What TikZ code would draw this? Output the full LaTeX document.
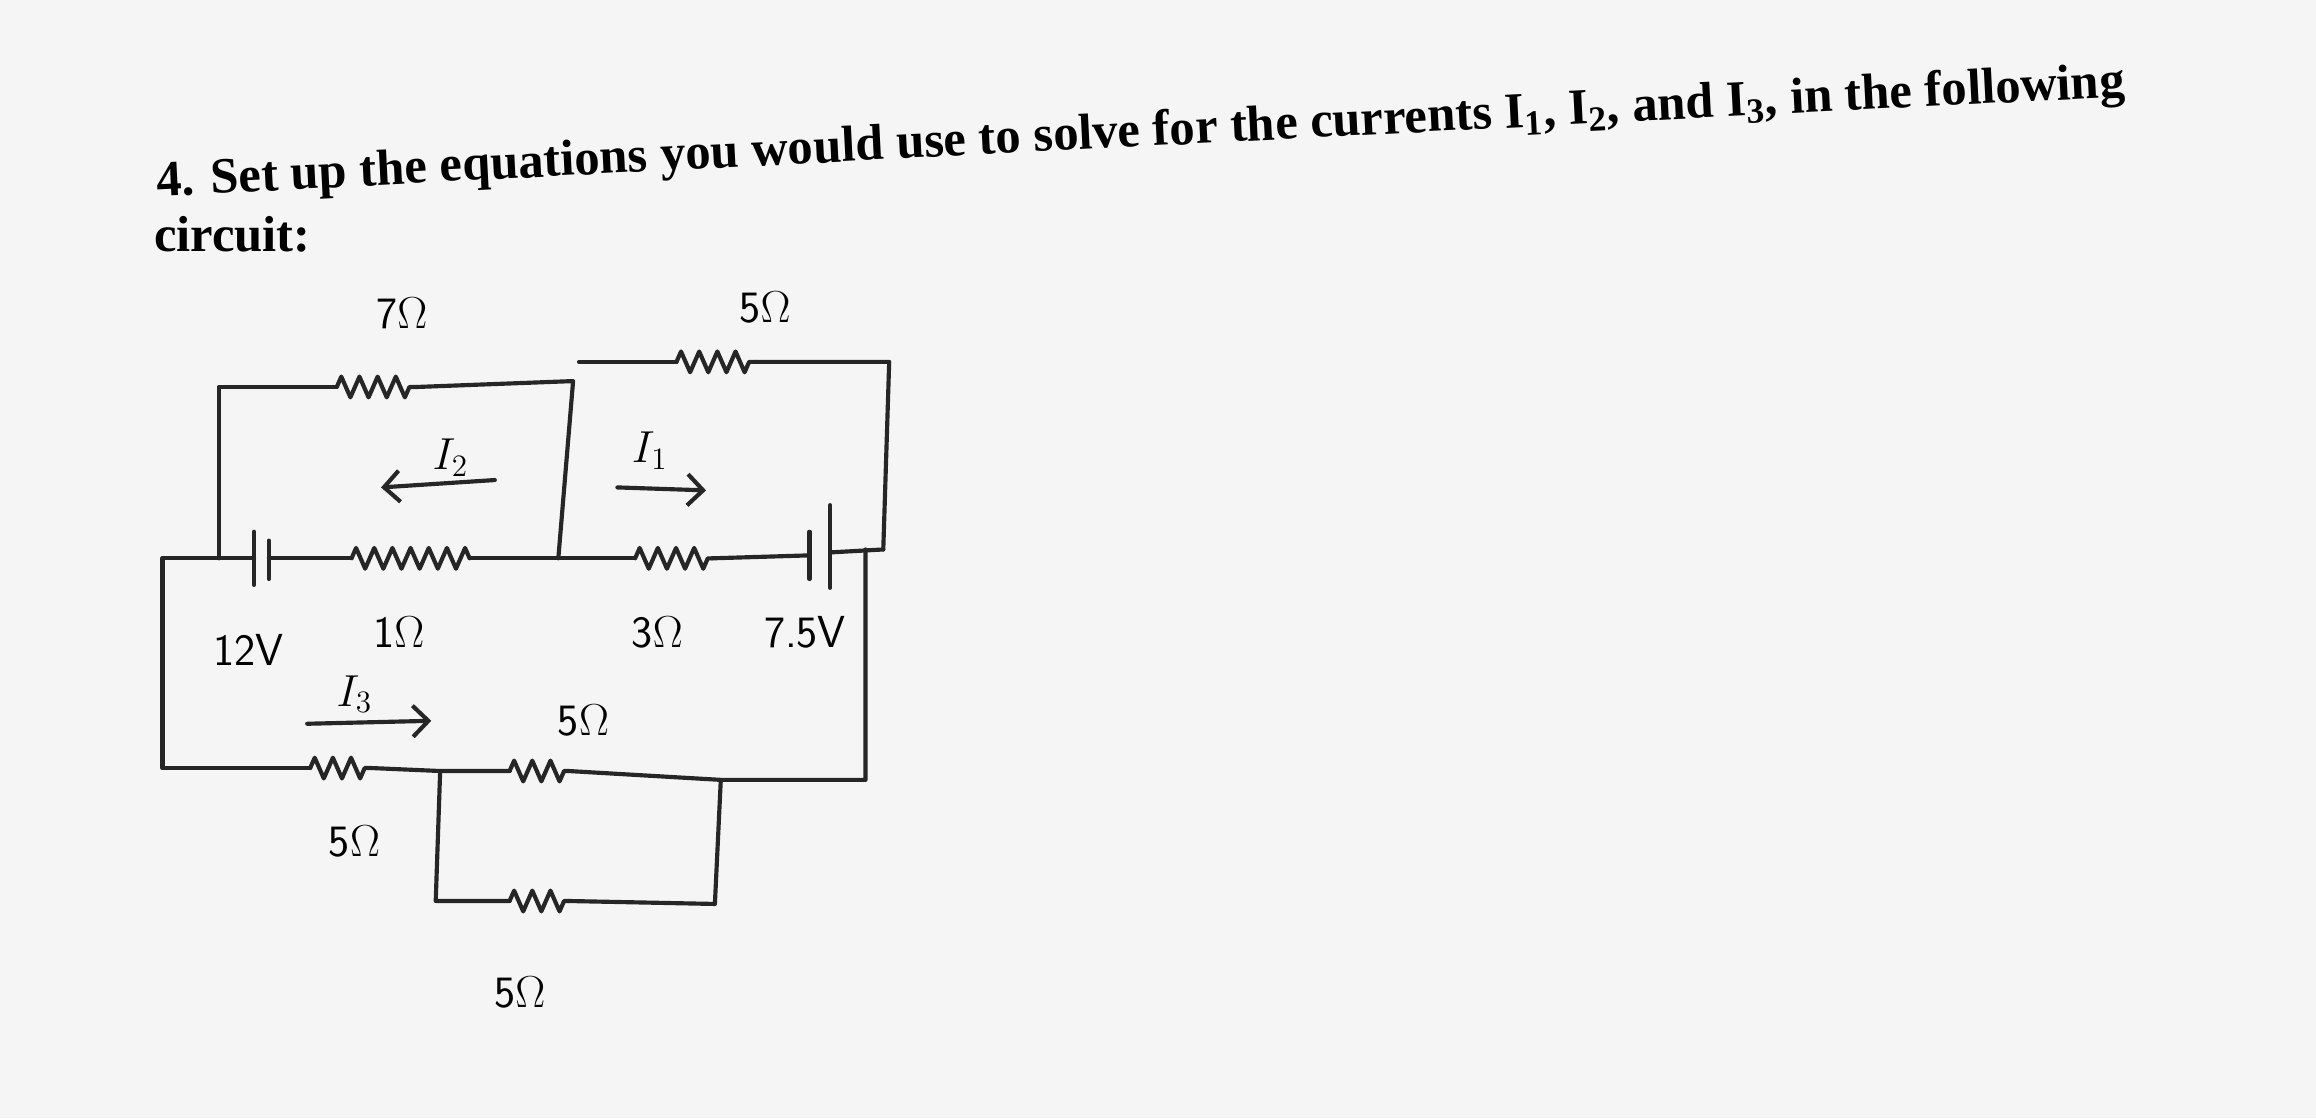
\documentclass[tikz,border=0pt]{standalone}
\usepackage{fontspec}
\setmainfont{Liberation Serif}
\usetikzlibrary{decorations.pathmorphing,arrows.meta}
\begin{document}
\begin{tikzpicture}[x=0.02cm,y=-0.02cm,line width=1.6pt,line cap=round,line join=round,
  wire/.style={draw=black!85},
  res/.style={decorate,decoration={zigzag,segment length=7pt,amplitude=4pt}},
  hand/.style={font=\sffamily\LARGE},
  cur/.style={-{Straight Barb[length=6pt]}}]
\fill[gray!8] (0,0) rectangle (1568,757);
\useasboundingbox (0,0) rectangle (1568,757);
\node[anchor=base west,rotate=2.9,inner sep=0,font=\fontsize{19.5}{22}\selectfont\bfseries] (title) at (105,133)
 {4. Set up the equations you would use to solve for the currents I\textsubscript{1}, I\textsubscript{2}, and I\textsubscript{3}, in the following};
\node[anchor=base west,inner sep=0,font=\fontsize{19.5}{22}\selectfont\bfseries] (circ) at (103,170) {circuit:};
% coordinates
\coordinate (a1) at (148,262);
\coordinate (a2) at (388,258);
\coordinate (a3) at (392,245);
\coordinate (a4) at (602,245);
\coordinate (m0) at (128,378);
\coordinate (m1) at (148,378);
\coordinate (mj) at (378,378);
\coordinate (m2) at (598,372);
\coordinate (l1) at (110,378);
\coordinate (l2) at (110,520);
\coordinate (b1) at (298,522);
\coordinate (b2) at (488,528);
\coordinate (r1) at (586,372);
\coordinate (r2) at (586,528);
\coordinate (p1) at (295,610);
\coordinate (p2) at (484,612);
% top left loop
\draw[wire] (m1) -- (a1) -- (228,262);
\draw[wire,res] (228,262) -- (282,262);
\draw[wire] (282,262) -- (a2) -- (mj);
% top right loop
\draw[wire] (a3) -- (458,245);
\draw[wire,res] (458,245) -- (512,245);
\draw[wire] (512,245) -- (a4) -- (m2);
% middle row
\draw[wire] (l1) -- (m0) -- (172,378);
\draw[wire] (172,360) -- (172,396);
\draw[wire] (182,366) -- (182,392);
\draw[wire] (182,378) -- (238,378);
\draw[wire,res] (238,378) -- (318,378);
\draw[wire] (318,378) -- (mj) -- (430,378);
\draw[wire,res] (430,378) -- (482,378);
\draw[wire] (482,378) -- (548,376);
\draw[wire] (548,360) -- (548,392);
\draw[wire] (562,342) -- (562,398);
\draw[wire] (562,374) -- (m2);
% lower loop
\draw[wire] (l1) -- (l2) -- (210,520);
\draw[wire,res] (210,520) -- (252,520);
\draw[wire] (252,520) -- (b1) -- (345,522);
\draw[wire,res] (345,522) -- (385,522);
\draw[wire] (385,522) -- (b2) -- (r2) -- (r1);
\draw[wire] (b1) -- (p1) -- (345,610);
\draw[wire,res] (345,610) -- (385,610);
\draw[wire] (385,610) -- (p2) -- (b2);
% labels
\node[hand] (l7) at (272,212) {7$\Omega$};
\node[hand] (l5a) at (518,208) {5$\Omega$};
\node[hand] (li2) at (305,310) {$I_2$};
\draw[wire,cur] (335,325) -- (258,330);
\node[hand] (li1) at (440,305) {$I_1$};
\draw[wire,cur] (418,330) -- (478,332);
\node[hand] (l1o) at (270,428) {1$\Omega$};
\node[hand] (l3o) at (445,428) {3$\Omega$};
\node[hand] (l75) at (545,428) {7.5V};
\node[hand] (l12) at (168,440) {12V};
\node[hand] (li3) at (240,470) {$I_3$};
\draw[wire,cur] (208,490) -- (292,488);
\node[hand] (l5b) at (395,488) {5$\Omega$};
\node[hand] (l5c) at (240,570) {5$\Omega$};
\node[hand] (l5d) at (352,672) {5$\Omega$};
\end{tikzpicture}
\end{document}
